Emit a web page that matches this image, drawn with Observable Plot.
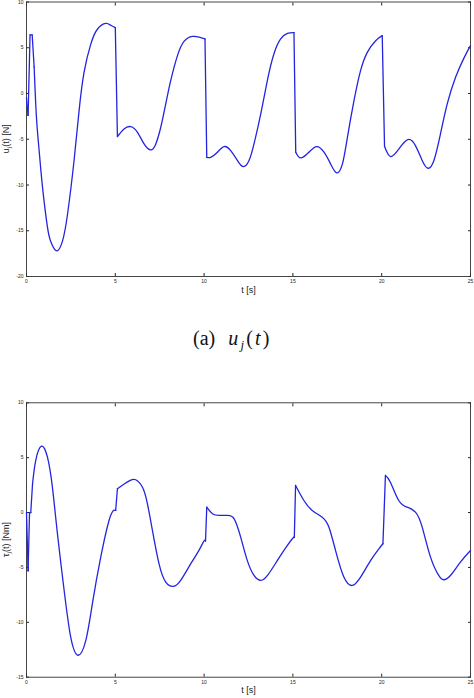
<!DOCTYPE html>
<html><head><meta charset="utf-8">
<script src="https://cdn.jsdelivr.net/npm/d3@7"></script>
<script src="https://cdn.jsdelivr.net/npm/@observablehq/plot@0.6"></script>
<style>
body{margin:0;background:#fff;}
#wrap{position:relative;width:474px;height:698px;overflow:hidden;background:#fff;}
#top{position:absolute;left:0;top:0;}
#bot{position:absolute;left:0;top:390px;}
#cap{position:absolute;left:193px;top:327px;font-family:"Liberation Serif","DejaVu Serif",serif;font-size:20px;line-height:22px;color:#111;white-space:nowrap;}
#cap .m{margin-left:13px;letter-spacing:2.2px;}
#cap sub{font-size:13px;vertical-align:-4px;}
svg{overflow:visible}
</style></head>
<body>
<div id="wrap">
  <div id="top"></div>
  <div id="cap">(a)<span class="m"><i>u<sub>j</sub></i>(<i>t</i>)</span></div>
  <div id="bot"></div>
</div>
<script>
const xTicks = [0, 5, 10, 15, 20, 25];
const uTicks = [-20, -15, -10, -5, 0, 5, 10];
const tauTicks = [-15, -10, -5, 0, 5, 10];

const uT = [0, 0.09, 0.2, 0.32, 0.43, 0.56, 0.71, 0.9, 1.18, 1.37, 1.69, 2.03, 2.31, 2.68, 2.96, 3.24, 3.62, 4.0, 4.46, 4.74, 5.0,
  5.12, 5.49, 5.87, 6.25, 6.62, 7.0, 7.28, 7.56, 7.84, 8.12, 8.5, 8.87, 9.34, 9.77, 10.05,
  10.15, 10.37, 10.75, 11.12, 11.5, 11.88, 12.21, 12.53, 12.81, 13.19, 13.56, 13.93, 14.31, 14.69, 15.06,
  15.16, 15.44, 15.9, 16.34, 16.75, 17.12, 17.46, 17.79, 18.07, 18.44, 18.81, 19.19, 19.66, 20.03,
  20.16, 20.5, 20.97, 21.47, 21.9, 22.28, 22.6, 22.94, 23.31, 23.69, 24.16, 24.65, 25];
const uV = [-0.5, -2.4, 6.4, 6.4, 2.9, -2.6, -6.2, -10.2, -14.6, -16.2, -17.2, -16.1, -13.2, -7.3, -1.9, 2.3, 5.4, 7.05, 7.66, 7.45, 7.2,
  -4.71, -3.87, -3.62, -4.24, -5.51, -6.17, -5.51, -3.69, -1.14, 1.41, 4.14, 5.7, 6.24, 6.13, 5.96,
  -6.97, -6.97, -6.42, -5.8, -6.24, -7.33, -7.99, -7.33, -5.51, -2.23, 1.41, 4.32, 5.96, 6.57, 6.65,
  -6.42, -7.04, -6.42, -5.8, -6.42, -7.69, -8.67, -7.69, -4.79, -0.78, 2.5, 4.5, 5.77, 6.32,
  -5.8, -6.9, -6.05, -5.04, -5.69, -7.33, -8.17, -7.33, -4.42, -1.14, 1.77, 3.95, 5.23];
// times after which the signal jumps (corners / switching instants)
const uBreaks = [0, 0.09, 0.32, 5.0, 10.05, 15.06, 20.03];

const tauT = [0, 0.09, 0.17, 0.24, 0.34, 0.52, 0.84, 1.18, 1.46, 1.74, 2.12, 2.49, 2.9, 3.34, 3.71, 4.18, 4.65, 4.9, 5.02,
  5.12, 5.5, 5.87, 6.15, 6.53, 6.81, 7.09, 7.46, 7.84, 8.27, 8.68, 9.25, 9.71, 9.99, 10.08,
  10.15, 10.47, 10.84, 11.31, 11.69, 12.06, 12.43, 12.81, 13.19, 13.57, 14.13, 14.69, 15.02, 15.08,
  15.15, 15.62, 16.09, 16.65, 17.03, 17.4, 17.87, 18.34, 18.81, 19.38, 19.84, 20.07,
  20.21, 20.49, 20.96, 21.43, 21.9, 22.28, 22.75, 23.21, 23.49, 23.87, 24.43, 25];
const tauV = [0, -5.3, 0, 0, 2.6, 4.75, 6.05, 5.05, 2.3, -1.9, -7.1, -11.35, -13.0, -11.65, -8.3, -4.06, -0.7, 0.2, 0.2,
  2.17, 2.6, 2.95, 2.99, 2.31, 0.8, -1.63, -4.66, -6.34, -6.73, -6.18, -4.66, -3.45, -2.6, -2.6,
  0.49, -0.1, -0.26, -0.26, -0.57, -2.24, -4.36, -5.73, -6.18, -5.73, -4.36, -3.0, -2.3, -2.25,
  2.47, 1.1, 0.19, -0.42, -1.33, -3.45, -5.88, -6.64, -5.88, -4.36, -3.3, -2.84,
  3.38, 2.77, 1.1, 0.49, 0.04, -1.33, -4.06, -5.73, -6.12, -5.73, -4.52, -3.45];
const tauBreaks = [0, 0.09, 0.17, 0.24, 4.9, 5.02, 10.08, 15.08, 20.07];

const xLabel = "t [s]";

function chart(T, V, breaks, yDomain, yTicks, height, mt, mb, ylabParts) {
  const data = T.map((t, i) => ({t, v: V[i], seg: breaks.filter(b => b < t).length}));
  const jumps = [];
  for (let i = 1; i < data.length; i++) {
    if (data[i].seg !== data[i - 1].seg) jumps.push({a: data[i - 1], b: data[i]});
  }
  const fmt = d => String(d);
  const svg = Plot.plot({
    width: 474, height,
    marginLeft: 26, marginRight: 4, marginTop: mt, marginBottom: mb,
    style: {fontFamily: "'Liberation Sans', Arial, sans-serif", fontSize: "5px", color: "#222", background: "white", overflow: "visible"},
    x: {domain: [0, 25]},
    y: {domain: yDomain},
    marks: [
      Plot.axisX(xTicks, {anchor: "bottom", tickSize: -3, tickPadding: 6, tickFormat: fmt, label: null}),
      Plot.axisX(xTicks, {anchor: "top", tickSize: -3, tickFormat: () => "", label: null}),
      Plot.axisY(yTicks, {anchor: "left", tickSize: -3, tickPadding: 6, tickFormat: fmt, label: null}),
      Plot.axisY(yTicks, {anchor: "right", tickSize: -3, tickFormat: () => "", label: null}),
      Plot.frame({stroke: "#333", strokeWidth: 0.9}),
      Plot.line(data, {x: "t", y: "v", z: "seg", stroke: "#2424e0", strokeWidth: 1.3, curve: "natural"}),
      Plot.link(jumps, {x1: d => d.a.t, y1: d => d.a.v, x2: d => d.b.t, y2: d => d.b.v, stroke: "#2424e0", strokeWidth: 1.3, strokeLinecap: "round"}),
      Plot.text([xLabel], {frameAnchor: "bottom", dy: 16, text: d => d, fontSize: 9, fill: "#222"})
    ]
  });
  const ys = svg.scale("y");
  const cy = (ys.apply(yDomain[0]) + ys.apply(yDomain[1])) / 2;
  const lab = d3.select(svg).append("text")
    .attr("transform", `translate(9, ${cy}) rotate(-90)`)
    .attr("text-anchor", "middle")
    .attr("font-family", "'Liberation Sans', Arial, sans-serif")
    .attr("font-size", 9)
    .attr("fill", "#222");
  lab.append("tspan").text(ylabParts[0]);
  lab.append("tspan").attr("font-size", 6).attr("dy", 2).text(ylabParts[1]);
  lab.append("tspan").attr("dy", -2).text(ylabParts[2]);
  return svg;
}

document.getElementById("top").appendChild(chart(uT, uV, uBreaks, [-20, 10], uTicks, 300, 1.5, 24, ["u", "j", "(t) [N]"]));
document.getElementById("bot").appendChild(chart(tauT, tauV, tauBreaks, [-15, 10], tauTicks, 308, 12.3, 21.3, ["τ", "j", "(t) [Nm]"]));
</script>
</body></html>
